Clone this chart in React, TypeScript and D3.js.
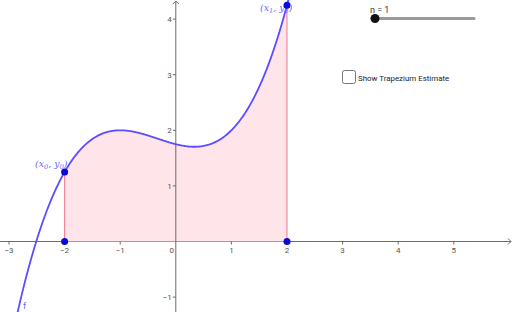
import React from "react";
import * as d3 from "d3";

// f(x) = c0 + c1 x + c2 x^2 + c3 x^3
const fCoefficients = [1.75, -0.25, 0.25, 0.25];
const intervalEnds = [-2, 2];
const xTicks = [-3, -2, -1, 1, 2, 3, 4, 5];
const yTicks = [-1, 1, 2, 3, 4];
const sliderValues = [1];
const sliderLabel = "n = 1";
const checkboxLabel = "Show Trapezium Estimate";

const W = 512;
const H = 312;

const f = (x: number) =>
  fCoefficients.reduce((s, c, i) => s + c * Math.pow(x, i), 0);

export default function App() {
  const x = d3.scaleLinear().domain([0, 1]).range([175.8, 231.4]);
  const y = d3.scaleLinear().domain([0, 1]).range([241.5, 185.9]);
  const xMin = x.invert(0);
  const xMax = x.invert(W);

  const curvePts = d3.range(xMin, xMax, 0.01).map((v) => [v, f(v)] as [number, number]);
  const line = d3
    .line<[number, number]>()
    .x((d) => x(d[0]))
    .y((d) => y(d[1]));

  const [a, b] = intervalEnds;
  const areaPts = d3.range(a, b + 0.0001, 0.01).map((v) => [v, f(v)] as [number, number]);
  const area = d3
    .area<[number, number]>()
    .x((d) => x(d[0]))
    .y0(y(0))
    .y1((d) => y(d[1]));

  const axisColor = "#6b6b6b";
  const labelColor = "#555";
  const blue = "#5c4dff";
  const pointColor = "#0a0ad8";
  const labelBlue = "#6a6aff";
  const pink = "#f07a8c";

  const sx = d3.scaleLinear().domain([1, 50]).range([375, 474]);

  return (
    <div style={{ position: "absolute", left: 0, top: 0 }}>
      <svg width={W} height={H} style={{ display: "block", background: "#fff" }} fontFamily="Roboto, 'Open Sans', sans-serif">
        {/* area */}
        <path d={area(areaPts) || ""} fill="#ffe4e9" stroke="none" />
        <line x1={x(a)} x2={x(a)} y1={y(0)} y2={y(f(a))} stroke={pink} strokeWidth={1} />
        <line x1={x(b)} x2={x(b)} y1={y(0)} y2={y(f(b))} stroke={pink} strokeWidth={1} />

        {/* axes */}
        <line x1={0} x2={W - 1} y1={y(0)} y2={y(0)} stroke={axisColor} strokeWidth={1} />
        <path d={`M${W - 4},${y(0) - 3} L${W - 1},${y(0)} L${W - 4},${y(0) + 3}`} fill="none" stroke={axisColor} strokeWidth={1} />
        <line x1={x(a)} x2={x(b)} y1={y(0)} y2={y(0)} stroke={pink} strokeWidth={1} />
        <line x1={x(0)} x2={x(0)} y1={1} y2={H} stroke={axisColor} strokeWidth={1} />
        <path d={`M${x(0) - 3},${4} L${x(0)},${1} L${x(0) + 3},${4}`} fill="none" stroke={axisColor} strokeWidth={1} />

        {xTicks.map((t) => (
          <g key={"xt" + t}>
            <line x1={x(t)} x2={x(t)} y1={y(0)} y2={y(0) + 3} stroke={axisColor} strokeWidth={1} />
            <text x={x(t)} y={y(0) + 11} fontSize={8} fill={labelColor} textAnchor="middle">
              {t < 0 ? "−" + Math.abs(t) : t}
            </text>
          </g>
        ))}
        <text x={x(0) - 4} y={y(0) + 11} fontSize={8} fill={labelColor} textAnchor="middle">0</text>
        {yTicks.map((t) => (
          <g key={"yt" + t}>
            <line x1={x(0) - 3} x2={x(0)} y1={y(t)} y2={y(t)} stroke={axisColor} strokeWidth={1} />
            <text x={x(0) - 4} y={y(t) + 3} fontSize={8} fill={labelColor} textAnchor="end">
              {t < 0 ? "−" + Math.abs(t) : t}
            </text>
          </g>
        ))}

        {/* curve */}
        <path d={line(curvePts) || ""} fill="none" stroke={blue} strokeWidth={1.8} />

        {/* labels */}
        <text x={35} y={167} fontSize={9.5} fill={labelBlue} fontFamily="'DejaVu Serif', serif" fontStyle="italic">
          (x<tspan fontSize={6.5} dy={2}>0</tspan>
          <tspan dy={-2}>, y</tspan>
          <tspan fontSize={6.5} dy={2}>0</tspan>
          <tspan dy={-2}>)</tspan>
        </text>
        <text x={260} y={11} fontSize={9.5} fill={labelBlue} fontFamily="'DejaVu Serif', serif" fontStyle="italic">
          (x<tspan fontSize={6.5} dy={2}>1</tspan>
          <tspan dy={-2}>, y</tspan>
          <tspan fontSize={6.5} dy={2}>1</tspan>
          <tspan dy={-2}>)</tspan>
        </text>
        <text x={23} y={309} fontSize={9} fill={labelBlue}>f</text>

        {/* points */}
        {intervalEnds.map((v) => (
          <g key={"p" + v}>
            <circle cx={x(v)} cy={y(f(v))} r={3.5} fill={pointColor} />
            <circle cx={x(v)} cy={y(0)} r={3.5} fill={pointColor} />
          </g>
        ))}

        {/* slider */}
        <text x={370} y={13} fontSize={9} fill="#333">{sliderLabel}</text>
        <line x1={sx(1)} x2={sx(50)} y1={18.5} y2={18.5} stroke="#9a9a9a" strokeWidth={3} strokeLinecap="round" />
        {sliderValues.map((v) => (
          <circle key={"s" + v} cx={sx(v)} cy={18.5} r={4.5} fill="#111" />
        ))}

        {/* checkbox */}
        <rect x={342.5} y={70.5} width={13} height={13} rx={2} fill="#fff" stroke="#777" strokeWidth={1} />
        <text x={358} y={80.5} fontSize={7.9} fill="#222">{checkboxLabel}</text>
      </svg>
    </div>
  );
}
